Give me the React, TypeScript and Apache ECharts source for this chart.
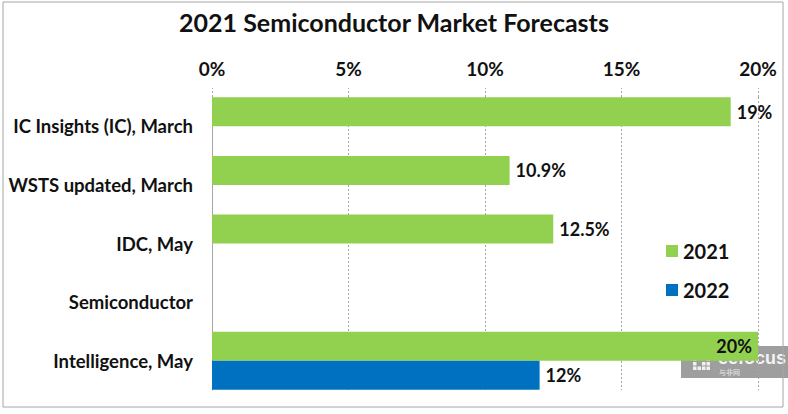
import React, { useEffect, useRef } from "react";
import * as echarts from "echarts";

const categories = [
  "IC Insights (IC), March",
  "WSTS updated, March",
  "IDC, May",
  "Semiconductor",
  "Intelligence, May",
];
const values2021: (number | null)[] = [19, 10.9, 12.5, null, 20];
const values2022: (number | null)[] = [null, null, null, null, 12];
const xTicks = [0, 5, 10, 15, 20];
const seriesNames = ["2021", "2022"];

const FONT = "Lato, 'Open Sans', sans-serif";

export default function App() {
  const ref = useRef<HTMLDivElement>(null);
  useEffect(() => {
    if (!ref.current) return;
    const chart = echarts.init(ref.current, undefined, { renderer: "svg" });
    const xMax = xTicks[xTicks.length - 1];
    const mkData = (arr: (number | null)[]) =>
      arr.map((v) =>
        v !== null && v >= xMax
          ? { value: v, label: { position: "insideRight", distance: 6 } }
          : v
      );
    const labelStyle = {
      show: true,
      position: "right",
      distance: 6,
      formatter: (p: any) => `${p.value}%`,
      fontFamily: FONT,
      fontSize: 18,
      fontWeight: "bold",
      color: "#111",
    };
    const logoSquares: any[] = [];
    const cells = [
      [0, 0], [1, 0], [2, 0], [3, 0],
      [0, 1], [3, 1],
      [0, 2], [2, 2], [3, 2],
      [0, 3], [1, 3], [2, 3], [3, 3],
    ];
    cells.forEach(([cx, cy]) =>
      logoSquares.push({
        type: "rect",
        shape: { x: 12 + cx * 4.5, y: 7 + cy * 4.5, width: 3.5, height: 3.5 },
        style: { fill: "rgba(255,255,255,0.85)" },
      })
    );
    chart.setOption({
      animation: false,
      backgroundColor: "#ffffff",
      textStyle: { fontFamily: FONT },
      title: {
        text: "2021 Semiconductor Market Forecasts",
        left: "center",
        top: 4,
        textStyle: { fontFamily: FONT, fontSize: 25, fontWeight: "bold", color: "#111" },
      },
      legend: {
        orient: "vertical",
        left: 661,
        top: 236,
        itemWidth: 12,
        itemHeight: 12,
        itemGap: 19,
        icon: "rect",
        data: seriesNames,
        textStyle: { fontFamily: FONT, fontSize: 20, fontWeight: "bold", color: "#111" },
      },
      grid: { left: 212, right: 30, top: 97, bottom: 24 },
      xAxis: {
        type: "value",
        position: "top",
        min: xTicks[0],
        max: xMax,
        interval: 5,
        axisLine: { show: false },
        axisTick: {
          show: true,
          length: 9,
          lineStyle: { color: "#A6A6A6", type: [2, 2] },
        },
        splitLine: { show: true, lineStyle: { color: "#A6A6A6", type: [2, 2] } },
        axisLabel: {
          formatter: "{value}%",
          fontFamily: FONT,
          fontSize: 19,
          fontWeight: "bold",
          color: "#111",
          margin: 19,
        },
      },
      yAxis: {
        type: "category",
        inverse: true,
        data: categories,
        axisLine: { show: true, lineStyle: { color: "#A6A6A6" } },
        axisTick: { show: false },
        axisLabel: {
          fontFamily: FONT,
          fontSize: 18.5,
          fontWeight: "bold",
          color: "#111",
          margin: 19,
        },
      },
      series: [
        {
          name: seriesNames[0],
          type: "bar",
          data: mkData(values2021),
          itemStyle: { color: "#92D050" },
          barGap: "0%",
          barCategoryGap: "1%",
          label: labelStyle,
        },
        {
          name: seriesNames[1],
          type: "bar",
          data: mkData(values2022),
          itemStyle: { color: "#0070C0" },
          barGap: "0%",
          barCategoryGap: "1%",
          label: labelStyle,
        },
      ],
      graphic: [
        {
          type: "rect",
          shape: { x: 3, y: 2, width: 780, height: 405 },
          style: { fill: "none", stroke: "#A6A6A6", lineWidth: 1 },
          silent: true,
          z: 100,
        },
        {
          type: "group",
          left: 681,
          top: 346,
          z: 200,
          children: [
            { type: "rect", shape: { x: 0, y: 0, width: 107, height: 32 }, style: { fill: "rgba(120,120,120,0.72)" } },
            ...logoSquares,
            { type: "text", x: 37, y: 3, style: { text: "eefocus", fill: "rgba(255,255,255,0.9)", font: "bold 18px Arial, sans-serif" } },
            { type: "text", x: 38, y: 22, style: { text: "与非网", fill: "rgba(255,255,255,0.8)", font: "7px 'Noto Sans CJK SC', sans-serif" } },
          ],
        },
      ],
    });
    return () => chart.dispose();
  }, []);
  return (
    <div
      ref={ref}
      style={{ position: "fixed", left: 0, top: 0, width: 788, height: 414, background: "#fff" }}
    />
  );
}
